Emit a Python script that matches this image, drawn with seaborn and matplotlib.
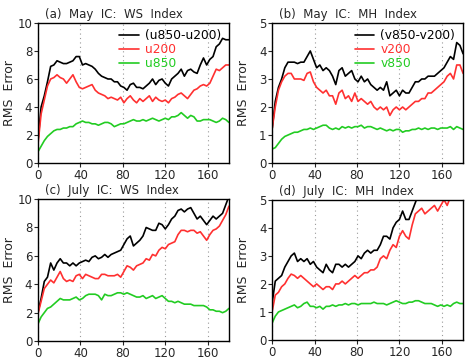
import numpy as np
import pandas as pd
import seaborn as sns
import matplotlib.pyplot as plt

# forecast lead days (every 3 days)
days = list(range(0, 181, 3))

# (a) May IC: WS Index
a_u850_u200 = [1.5, 4.0, 4.8, 5.8, 6.9, 7.0, 7.3, 7.2, 7.1, 7.1, 7.2, 7.3, 7.6, 7.6, 7.0, 7.1,
               7.0, 6.9, 6.7, 6.4, 6.2, 6.1, 6.0, 6.0, 5.8, 5.8, 5.5, 5.4, 5.2, 5.6, 5.7, 5.4,
               5.4, 5.3, 5.5, 5.7, 6.0, 5.6, 5.9, 6.0, 5.7, 5.5, 6.0, 6.2, 6.4, 6.7, 6.2, 6.6,
               6.7, 6.5, 6.4, 7.0, 7.5, 7.0, 7.4, 7.6, 8.3, 8.5, 8.9, 8.8, 8.8]
a_u200 = [1.3, 3.5, 4.5, 5.5, 6.0, 6.1, 6.3, 6.1, 6.0, 5.7, 6.0, 6.3, 5.8, 5.4, 5.3, 5.4,
          5.5, 5.6, 5.2, 5.0, 4.9, 4.8, 4.6, 4.7, 4.6, 4.5, 4.7, 4.3, 4.6, 4.8, 4.5, 4.3,
          4.6, 4.4, 4.6, 4.8, 4.4, 4.7, 4.5, 4.4, 4.5, 4.3, 4.6, 4.7, 4.9, 5.0, 4.8, 4.6,
          4.9, 5.2, 5.3, 5.5, 5.6, 5.5, 5.7, 6.2, 6.7, 6.6, 6.8, 7.0, 7.0]
a_u850 = [0.8, 1.2, 1.6, 1.9, 2.1, 2.3, 2.4, 2.4, 2.5, 2.5, 2.6, 2.6, 2.8, 2.9, 3.0, 2.9,
          2.9, 2.8, 2.8, 2.7, 2.8, 2.9, 2.9, 2.8, 2.6, 2.7, 2.8, 2.8, 2.9, 3.0, 3.1, 3.0,
          3.0, 3.1, 3.0, 3.1, 3.2, 3.1, 3.0, 3.1, 3.2, 3.1, 3.3, 3.3, 3.4, 3.6, 3.4, 3.2,
          3.4, 3.3, 3.0, 3.0, 3.1, 3.1, 3.1, 3.0, 2.9, 3.0, 3.2, 3.1, 2.9]

# (b) May IC: MH Index
b_v850_v200 = [1.2, 2.2, 2.7, 3.0, 3.4, 3.6, 3.6, 3.6, 3.55, 3.6, 3.6, 3.8, 4.0, 3.7, 3.4, 3.5,
               3.3, 3.4, 3.3, 3.1, 2.8, 3.3, 3.4, 3.1, 3.2, 3.3, 3.0, 2.9, 3.1, 2.9, 3.0, 2.8,
               2.7, 2.6, 2.7, 2.6, 2.9, 2.4, 2.5, 2.6, 2.4, 2.6, 2.5, 2.5, 2.7, 2.9, 2.9, 3.0,
               3.0, 3.1, 3.1, 3.1, 3.2, 3.3, 3.4, 3.6, 3.8, 3.7, 4.3, 4.2, 3.9]
b_v200 = [1.2, 2.0, 2.6, 2.9, 3.1, 3.2, 3.2, 3.0, 3.0, 3.0, 2.95, 3.2, 3.25, 2.9, 2.7, 2.6,
          2.5, 2.6, 2.4, 2.4, 2.1, 2.5, 2.6, 2.3, 2.4, 2.2, 2.5, 2.2, 2.3, 2.2, 2.1, 2.2,
          2.0, 1.9, 2.0, 1.9, 2.0, 1.7, 1.9, 2.0, 1.9, 2.0, 1.9, 2.0, 2.1, 2.2, 2.2, 2.3,
          2.3, 2.5, 2.5, 2.6, 2.7, 2.8, 2.9, 3.1, 3.2, 3.0, 3.5, 3.5, 3.2]
b_v850 = [0.5, 0.55, 0.7, 0.85, 0.95, 1.0, 1.05, 1.1, 1.1, 1.15, 1.2, 1.2, 1.25, 1.2, 1.25, 1.3,
          1.35, 1.35, 1.25, 1.2, 1.25, 1.2, 1.3, 1.25, 1.3, 1.25, 1.3, 1.3, 1.35, 1.25, 1.3, 1.3,
          1.25, 1.2, 1.25, 1.2, 1.15, 1.2, 1.15, 1.2, 1.2, 1.1, 1.15, 1.15, 1.2, 1.2, 1.25, 1.2,
          1.25, 1.2, 1.25, 1.25, 1.2, 1.25, 1.25, 1.25, 1.3, 1.2, 1.3, 1.25, 1.2]

# (c) July IC: WS Index
c_u850_u200 = [2.0, 3.0, 4.2, 4.5, 5.5, 5.0, 5.5, 5.8, 5.5, 5.5, 5.3, 5.5, 5.3, 5.5, 5.6, 5.7,
               5.6, 5.9, 6.0, 5.8, 5.9, 6.1, 5.9, 6.1, 6.2, 6.3, 6.4, 6.8, 7.2, 7.4, 6.7, 6.9,
               7.1, 7.4, 8.0, 7.9, 7.8, 7.8, 8.3, 8.2, 7.9, 8.2, 8.6, 8.8, 9.2, 9.3, 9.1, 9.3,
               9.4, 9.0, 8.6, 8.8, 8.5, 8.2, 8.5, 8.8, 8.6, 8.8, 9.0, 9.6, 10.2]
c_u200 = [1.9, 2.8, 3.7, 4.0, 4.3, 4.1, 4.5, 4.9, 4.4, 4.2, 4.3, 4.2, 4.6, 4.7, 4.4, 4.7,
          4.6, 4.5, 4.4, 4.4, 4.7, 4.7, 4.6, 4.6, 4.6, 4.7, 4.5, 4.9, 5.3, 5.2, 5.0, 5.3,
          5.4, 5.5, 5.8, 5.7, 6.1, 6.0, 6.4, 6.6, 6.5, 6.8, 6.9, 7.0, 7.5, 7.8, 7.8, 7.7,
          7.8, 7.8, 7.6, 7.7, 7.4, 7.1, 7.5, 7.8, 7.9, 8.1, 8.5, 8.9, 9.5]
c_u850 = [1.2, 1.7, 2.0, 2.3, 2.4, 2.6, 2.8, 3.0, 2.9, 2.9, 2.9, 3.0, 3.1, 2.9, 3.0, 3.2,
          3.3, 3.3, 3.3, 3.2, 2.9, 3.3, 3.2, 3.2, 3.3, 3.4, 3.4, 3.3, 3.4, 3.3, 3.2, 3.1,
          3.1, 3.2, 3.0, 3.1, 3.2, 3.0, 3.1, 3.2, 3.0, 2.8, 2.8, 2.7, 2.8, 2.7, 2.6, 2.6,
          2.6, 2.5, 2.5, 2.5, 2.5, 2.4, 2.2, 2.2, 2.1, 2.1, 2.0, 2.1, 2.3]

# (d) July IC: MH Index
d_v850_v200 = [1.3, 2.1, 2.2, 2.3, 2.6, 2.8, 3.0, 3.1, 2.8, 2.9, 2.8, 2.9, 2.7, 2.8, 2.6, 2.5,
               2.4, 2.7, 2.5, 2.4, 2.7, 2.7, 2.6, 2.7, 2.6, 2.7, 2.8, 3.0, 2.9, 3.1, 3.2, 3.1,
               3.2, 3.2, 3.4, 3.7, 3.7, 3.6, 4.0, 4.2, 4.3, 4.6, 4.3, 4.3, 4.6, 4.9, 5.2, 5.4,
               5.6, 5.5, 5.4, 5.2, 5.0, 5.3, 5.6, 5.7, 5.8, 5.9, 6.0, 6.0, 6.0]
d_v200 = [1.0, 1.6, 1.7, 1.9, 2.0, 2.2, 2.35, 2.3, 2.2, 2.3, 2.2, 2.1, 2.0, 1.9, 2.0, 1.9,
          1.8, 1.9, 1.9, 1.8, 2.0, 2.0, 2.1, 2.0, 2.1, 2.2, 2.3, 2.2, 2.3, 2.4, 2.4, 2.5,
          2.5, 2.6, 2.9, 3.0, 2.9, 3.2, 3.4, 3.3, 3.7, 3.9, 3.7, 3.6, 4.1, 4.5, 4.6, 4.7,
          4.5, 4.6, 4.7, 4.8, 4.6, 4.8, 5.0, 4.8, 5.1, 5.3, 5.4, 5.5, 5.6]
d_v850 = [0.6, 0.85, 1.0, 1.05, 1.1, 1.15, 1.2, 1.25, 1.15, 1.2, 1.3, 1.35, 1.2, 1.2, 1.15, 1.2,
          1.1, 1.2, 1.2, 1.25, 1.2, 1.25, 1.25, 1.3, 1.25, 1.3, 1.3, 1.25, 1.3, 1.3, 1.3, 1.3,
          1.35, 1.3, 1.3, 1.3, 1.25, 1.3, 1.35, 1.4, 1.35, 1.3, 1.3, 1.35, 1.35, 1.4, 1.4, 1.35,
          1.3, 1.3, 1.3, 1.25, 1.2, 1.25, 1.2, 1.25, 1.2, 1.3, 1.35, 1.3, 1.3]

panels = [
    ("(a)  May  IC:  WS  Index", ["(u850-u200)", "u200", "u850"],
     [a_u850_u200, a_u200, a_u850], 10, True),
    ("(b)  May  IC:  MH  Index", ["(v850-v200)", "v200", "v850"],
     [b_v850_v200, b_v200, b_v850], 5, True),
    ("(c)  July  IC:  WS  Index", ["(u850-u200)", "u200", "u850"],
     [c_u850_u200, c_u200, c_u850], 10, False),
    ("(d)  July  IC:  MH  Index", ["(v850-v200)", "v200", "v850"],
     [d_v850_v200, d_v200, d_v850], 5, False),
]

colors = ["black", "#ff3030", "#22cc22"]

sns.set_style("white")
plt.rcParams['font.family'] = ['DejaVu Sans']

fig = plt.figure(figsize=(4.74, 3.64), dpi=100)
rects = [
    [0.080, 0.552, 0.403, 0.385],
    [0.574, 0.552, 0.403, 0.385],
    [0.080, 0.063, 0.403, 0.390],
    [0.574, 0.066, 0.403, 0.385],
]

for rect, (title, names, series, ytop, show_leg) in zip(rects, panels):
    ax = fig.add_axes(rect)
    df = pd.DataFrame({"day": days * 3,
                       "rms": [v for s in series for v in s],
                       "var": [n for n in names for _ in days]})
    sns.lineplot(data=df, x="day", y="rms", hue="var", hue_order=names,
                 palette=colors, linewidth=1.2, ax=ax, legend=show_leg)
    ax.set_xlim(0, 180)
    ax.set_ylim(0, ytop)
    ax.set_xticks([0, 40, 80, 120, 160])
    if ytop == 10:
        ax.set_yticks([0, 2, 4, 6, 8, 10])
    else:
        ax.set_yticks([0, 1, 2, 3, 4, 5])
    ax.tick_params(labelsize=8.5, length=3, width=0.8, direction='out',
                   bottom=True, left=True, pad=1)
    ax.grid(axis='x', linestyle=(0, (1, 3)), color='#999999', linewidth=0.8)
    ax.grid(axis='y', visible=False)
    for sp in ax.spines.values():
        sp.set_linewidth(1.0)
        sp.set_color('black')
    ax.set_xlabel('')
    ax.set_ylabel('RMS  Error', fontsize=9)
    ax.yaxis.set_label_coords(-0.115, 0.5)
    ax.text(0.035, 1.012, title, transform=ax.transAxes, fontsize=8.5,
            ha='left', va='bottom')
    if show_leg:
        leg = ax.legend(loc='upper right', frameon=False, fontsize=8.8,
                        handlelength=1.6, handletextpad=0.5, labelspacing=0.1,
                        borderaxespad=0.1, bbox_to_anchor=(0.99, 1.0))
        for txt, c in zip(leg.get_texts(), colors):
            txt.set_color(c)

fig.savefig("out.png", dpi=100)
